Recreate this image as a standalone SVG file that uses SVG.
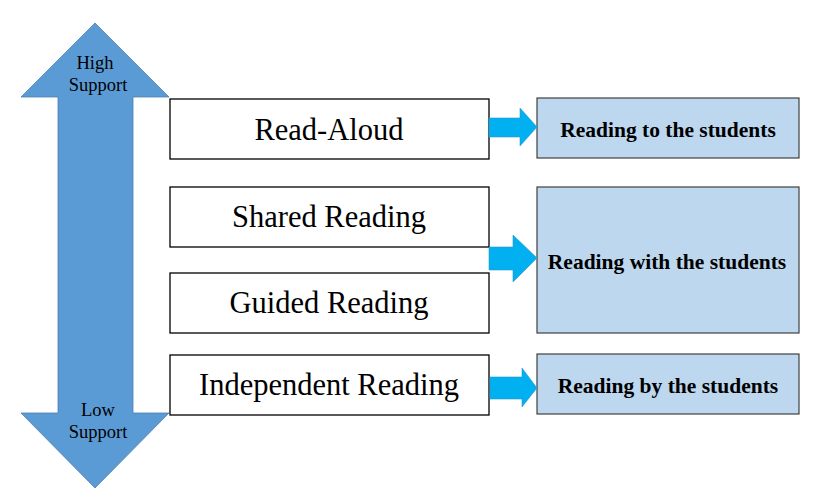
<svg xmlns="http://www.w3.org/2000/svg" width="832" height="498" viewBox="0 0 832 498">
<style>
.box{fill:#fff;stroke:#000;stroke-width:1.3}
.res{fill:#BDD7EE;stroke:#404040;stroke-width:1.2}
.t{font-family:"Liberation Serif","Times New Roman",serif;font-size:30.5px;fill:#000;text-anchor:middle}
.r{font-family:"Liberation Serif","Times New Roman",serif;font-size:21.5px;font-weight:bold;fill:#000;text-anchor:middle}
.s{font-family:"Liberation Serif","Times New Roman",serif;font-size:18.5px;fill:#000;text-anchor:middle}
.arr{fill:#00B0F0;stroke:#2E9BD0;stroke-width:0.6}
</style>
<rect width="832" height="498" fill="#fff"/>
<g id="support-arrow">
<polygon points="95,23 169,97 133,97 133,413 169,413 95,488 21,413 58,413 58,97 21,97" fill="#5B9BD5" stroke="#4A7EB0" stroke-width="0.8"/>
<text class="s" x="95" y="69">High</text>
<text class="s" x="98" y="91">Support</text>
<text class="s" x="98" y="416">Low</text>
<text class="s" x="98" y="438">Support</text>
</g>
<g id="read-aloud"><rect class="box" x="170" y="99" width="319" height="60"/><text class="t" x="329" y="140">Read-Aloud</text></g>
<g id="shared-reading"><rect class="box" x="170" y="187" width="319" height="60"/><text class="t" x="329" y="227">Shared Reading</text></g>
<g id="guided-reading"><rect class="box" x="170" y="273" width="319" height="60"/><text class="t" x="329" y="313">Guided Reading</text></g>
<g id="independent-reading"><rect class="box" x="170" y="355" width="319" height="60"/><text class="t" x="329" y="395">Independent Reading</text></g>
<g id="reading-to"><rect class="res" x="537" y="98" width="262" height="60"/><text class="r" x="668" y="137">Reading to the students</text></g>
<g id="reading-with"><rect class="res" x="537" y="187" width="262" height="146"/><text class="r" x="667" y="269">Reading with the students</text></g>
<g id="reading-by"><rect class="res" x="537" y="354" width="262" height="60"/><text class="r" x="668" y="393">Reading by the students</text></g>
<g id="connectors">
<polygon class="arr" points="489,118 520,118 520,108 537,127 520,146 520,137 489,137"/>
<polygon class="arr" points="489,247 513,247 513,235 537,258 513,282 513,270 489,270"/>
<polygon class="arr" points="490,377 522,377 522,368 537,388 522,407 522,399 490,399"/>
</g>
</svg>
